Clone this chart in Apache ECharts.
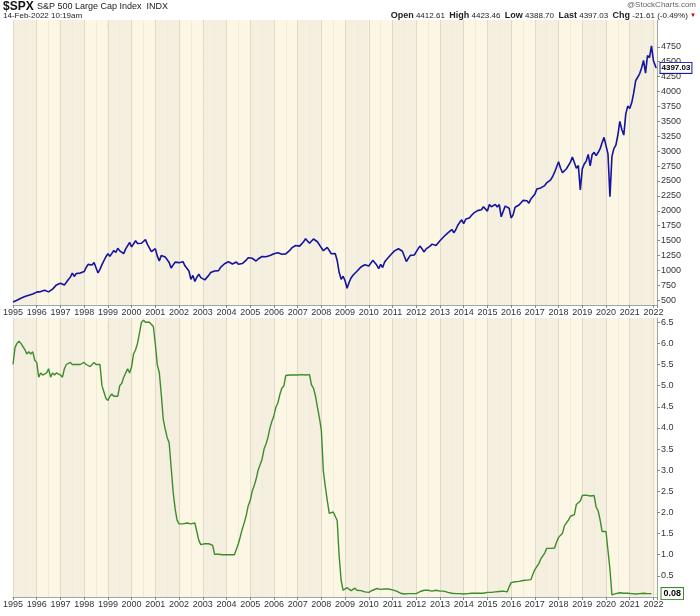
<!DOCTYPE html>
<html><head><meta charset="utf-8">
<script src="https://cdn.jsdelivr.net/npm/echarts@6/dist/echarts.min.js"></script>
<style>html,body{margin:0;padding:0;background:#fff}#c{width:700px;height:616px}</style>
</head><body><div id="c"></div>
<script>
const years = [1995,1996,1997,1998,1999,2000,2001,2002,2003,2004,2005,2006,2007,2008,2009,2010,2011,2012,2013,2014,2015,2016,2017,2018,2019,2020,2021,2022];
const spx = [
[470,487,500,514,533,545,562,562,584,582,605,615],
[636,640,645,654,669,670,640,651,687,705,757,740],
[786,790,757,801,848,885,954,899,947,914,955,970],
[980,1049,1101,1111,1090,1133,1120,957,1017,1098,1163,1229],
[1279,1238,1286,1335,1301,1372,1328,1320,1282,1362,1388,1469],
[1394,1366,1498,1452,1420,1455,1430,1517,1436,1429,1315,1320],
[1366,1240,1160,1249,1256,1224,1211,1134,1041,1060,1139,1148],
[1130,1107,1147,1077,1067,990,850,916,815,886,936,880],
[856,841,848,917,964,975,990,1008,996,1051,1058,1112],
[1131,1145,1126,1107,1121,1141,1102,1104,1115,1130,1174,1212],
[1181,1204,1180,1157,1191,1191,1234,1220,1229,1207,1249,1248],
[1280,1281,1295,1311,1270,1270,1277,1304,1336,1378,1401,1418],
[1438,1407,1421,1482,1531,1503,1455,1474,1527,1549,1481,1468],
[1379,1331,1323,1386,1400,1280,1267,1283,1166,969,850,903],
[826,700,798,873,919,919,987,1021,1057,1036,1096,1115],
[1074,1104,1169,1187,1089,1031,1102,1049,1141,1183,1181,1258],
[1286,1327,1326,1364,1345,1321,1292,1150,1131,1253,1247,1258],
[1312,1366,1408,1398,1310,1362,1379,1407,1441,1412,1416,1426],
[1498,1515,1569,1598,1631,1606,1686,1633,1682,1757,1806,1848],
[1783,1859,1872,1884,1924,1960,1931,2003,1972,2018,2068,2059],
[1995,2105,2068,2086,2107,2063,2104,1900,1920,2079,2080,2044],
[1880,1932,2060,2065,2097,2099,2174,2171,2168,2126,2199,2239],
[2279,2364,2363,2384,2412,2423,2470,2472,2519,2575,2648,2674],
[2824,2714,2641,2648,2705,2718,2816,2902,2914,2712,2760,2351],
[2704,2784,2834,2946,2752,2942,2980,2926,2977,3038,3141,3231],
[3226,2954,2237,2912,3044,3100,3271,3500,3363,3270,3622,3756],
[3714,3811,3973,4181,4204,4298,4395,4523,4308,4605,4567,4766],
[4516,4397.03]
];
const fed = [
[5.5,5.9,6.0,6.05,6.0,6.0,5.85,5.75,5.8,5.75,5.8,5.6],
[5.55,5.2,5.3,5.25,5.25,5.3,5.4,5.2,5.3,5.25,5.3,5.3],
[5.25,5.2,5.4,5.5,5.5,5.55,5.5,5.5,5.5,5.5,5.5,5.5],
[5.55,5.5,5.5,5.45,5.5,5.55,5.5,5.5,5.5,5.0,4.85,4.7],
[4.65,4.75,4.8,4.75,4.75,4.75,5.0,5.05,5.2,5.2,5.4,5.3],
[5.45,5.75,5.85,6.0,6.25,6.5,6.55,6.5,6.5,6.5,6.5,6.4],
[5.98,5.49,5.31,4.8,4.21,3.97,3.77,3.65,3.07,2.49,2.09,1.82],
[1.73,1.74,1.73,1.75,1.75,1.75,1.73,1.74,1.75,1.75,1.34,1.24],
[1.24,1.26,1.25,1.26,1.26,1.22,1.01,1.03,1.01,1.01,1.0,0.98],
[1.0,1.01,1.0,1.0,1.0,1.03,1.26,1.43,1.61,1.76,1.93,2.16],
[2.28,2.5,2.63,2.79,3.0,3.04,3.26,3.5,3.62,3.78,4.0,4.16],
[4.29,4.49,4.59,4.79,4.94,4.99,5.24,5.25,5.25,5.25,5.25,5.24],
[5.25,5.26,5.26,5.25,5.25,5.25,5.26,5.02,4.94,4.76,4.49,4.24],
[3.94,2.98,2.61,2.28,1.98,2.0,2.01,2.0,1.81,0.97,0.39,0.16],
[0.15,0.22,0.18,0.15,0.18,0.21,0.16,0.16,0.15,0.12,0.12,0.12],
[0.11,0.13,0.16,0.2,0.2,0.18,0.18,0.19,0.19,0.19,0.19,0.18],
[0.17,0.16,0.14,0.1,0.09,0.09,0.07,0.1,0.08,0.07,0.08,0.07],
[0.08,0.1,0.13,0.14,0.16,0.16,0.16,0.13,0.14,0.16,0.16,0.16],
[0.14,0.15,0.14,0.15,0.11,0.09,0.09,0.08,0.08,0.09,0.08,0.09],
[0.07,0.07,0.08,0.09,0.09,0.1,0.09,0.09,0.09,0.09,0.09,0.12],
[0.11,0.11,0.11,0.12,0.12,0.13,0.13,0.14,0.14,0.12,0.12,0.24],
[0.34,0.38,0.36,0.37,0.37,0.38,0.39,0.4,0.4,0.4,0.41,0.54],
[0.65,0.66,0.79,0.9,0.91,1.04,1.15,1.16,1.15,1.15,1.16,1.3],
[1.41,1.42,1.51,1.69,1.7,1.82,1.91,1.91,1.95,2.19,2.2,2.27],
[2.4,2.4,2.41,2.42,2.39,2.38,2.4,2.13,2.04,1.83,1.55,1.55],
[1.55,1.58,0.65,0.05,0.05,0.08,0.09,0.1,0.09,0.09,0.09,0.09],
[0.09,0.08,0.07,0.07,0.06,0.08,0.1,0.09,0.08,0.08,0.08,0.08]
];
const spxTicks = [500,750,1000,1250,1500,1750,2000,2250,2500,2750,3000,3250,3500,3750,4000,4250,4500,4750];
const fedTicks = [0.5,1.0,1.5,2.0,2.5,3.0,3.5,4.0,4.5,5.0,5.5,6.0,6.5];

function toPts(arr){const out=[];arr.forEach((row,i)=>row.forEach((v,m)=>out.push([years[i]+m/12+(i===27&&m===1?0.03:0),v])));return out;}
const spxData = toPts(spx), fedData = toPts(fed);
const lastSpx = spxData[spxData.length-1], lastFed = fedData[fedData.length-1];

const chart = echarts.init(document.getElementById('c'));
const font = 'Liberation Sans, Arial, sans-serif';
function xAx(gi){return {type:'value',gridIndex:gi,min:1995,max:2022.15,interval:1,
  axisLine:{show:true,lineStyle:{color:'#9aa'}},axisTick:{show:true,length:3,lineStyle:{color:'#888'}},
  axisLabel:{color:'#333',fontSize:9,fontFamily:font,margin:3,formatter:v=>Number.isInteger(v)?String(v):''},
  splitLine:{show:true,lineStyle:{color:'#e2dac6',width:1}},
  minorTick:{show:false,splitNumber:2},minorSplitLine:{show:true,lineStyle:{color:'#f1ebdb',width:1}},
  splitArea:{show:true,areaStyle:{color:['#f5efdf','#fcf6e4']}}};}
const yCommon = {position:'right',axisLine:{show:true,lineStyle:{color:'#9aa'}},
  splitLine:{show:true,lineStyle:{color:'#e6dfcf'}}};
chart.setOption({
  animation:false,
  grid:[{left:12,right:43,top:20,height:285},{left:12,right:43,top:318,height:279}],
  xAxis:[xAx(0),xAx(1)],
  yAxis:[
    Object.assign({},yCommon,{type:'value',gridIndex:0,min:420,max:5200,
      axisLabel:{color:'#333',fontSize:9,fontFamily:font,margin:4,customValues:spxTicks,formatter:v=>String(v)},
      axisTick:{show:true,length:3,customValues:spxTicks,lineStyle:{color:'#888'}}}),
    Object.assign({},yCommon,{type:'value',gridIndex:1,min:0,max:6.6,
      axisLabel:{color:'#333',fontSize:9,fontFamily:font,margin:4,customValues:fedTicks,formatter:v=>v.toFixed(1)},
      axisTick:{show:true,length:3,customValues:fedTicks,lineStyle:{color:'#888'}}})
  ],
  series:[
    {type:'line',xAxisIndex:0,yAxisIndex:0,data:spxData,symbol:'none',lineStyle:{color:'#1414a0',width:1.6},
     markPoint:{symbol:'rect',symbolSize:[1,1],data:[{coord:[2022.15,lastSpx[1]]}],
       label:{show:true,position:'right',distance:3,formatter:()=>lastSpx[1].toFixed(2),color:'#000',fontWeight:'bold',fontSize:8,fontFamily:font,
         backgroundColor:'#fff',borderColor:'#1414a0',borderWidth:1,padding:[1,1]}}},
    {type:'line',xAxisIndex:1,yAxisIndex:1,data:fedData,symbol:'none',lineStyle:{color:'#3c8c2c',width:1.4},
     markPoint:{symbol:'rect',symbolSize:[1,1],data:[{coord:[2022.15,lastFed[1]]}],
       label:{show:true,position:'right',distance:4,formatter:()=>lastFed[1].toFixed(2),color:'#000',fontWeight:'bold',fontSize:9,fontFamily:font,
         backgroundColor:'#fff',borderColor:'#3c8c2c',borderWidth:1,padding:[1,2]}}}
  ],
  graphic:[
    {type:'text',left:3,top:1,style:{text:'{a|$SPX} {b|S&P 500 Large Cap Index  INDX}',rich:{a:{fontSize:12,fontWeight:'bold',fontFamily:font,fill:'#111'},b:{fontSize:9,fontFamily:font,fill:'#222'}}}},
    {type:'text',left:3,top:12,style:{text:'14-Feb-2022 10:19am',fontSize:8,fontFamily:font,fill:'#222'}},
    {type:'text',right:4,top:1,style:{text:'@StockCharts.com',fontSize:8,fontFamily:font,fill:'#666'}},
    {type:'text',right:4,top:11,style:{text:'{l|Open} 4412.61  {l|High} 4423.46  {l|Low} 4388.70  {l|Last} 4397.03  {l|Chg} -21.61 (-0.49%) {r|▼}',
      fontSize:8,fontFamily:font,fill:'#222',rich:{l:{fontWeight:'bold',fontSize:9,fontFamily:font},r:{fill:'#c00',fontSize:6}}}},
    {type:'text',left:15,top:22,style:{text:'{m|▬} S&P 500 Large Cap Index (Daily) 4397.03',fontSize:8,fontFamily:font,fill:'#222',rich:{m:{fill:'#1414a0',fontSize:7}}}},
    {type:'text',left:15,top:321,style:{text:'{m|▬} Effective Federal Funds Rate 0.08 (31 Dec)',fontSize:8,fontFamily:font,fill:'#222',rich:{m:{fill:'#3c8c2c',fontSize:7}}}}
  ]
});
</script></body></html>
